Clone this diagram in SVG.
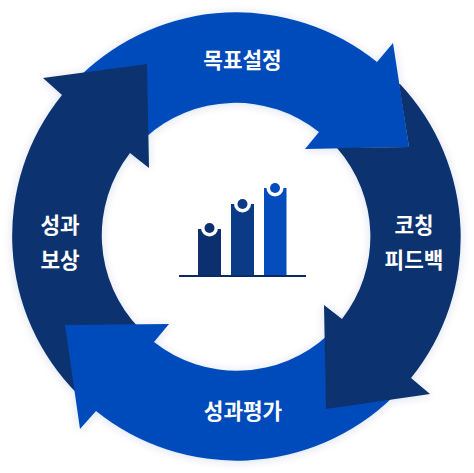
<svg xmlns="http://www.w3.org/2000/svg" width="474" height="473" viewBox="0 0 474 473">
<defs>
<filter id="soft" x="-10%" y="-10%" width="120%" height="120%"><feDropShadow dx="0" dy="1" stdDeviation="4" flood-color="#0b3a8a" flood-opacity="0.16"/></filter>
</defs>
<style>
.blue{fill:#054cbc}
.navy{fill:#0c306f}
.mid{fill:#0b3a86}
.hole{fill:#fff}
text{font-family:"Noto Sans CJK KR","Noto Sans",sans-serif;font-size:21.3px;font-weight:700;fill:#fff;text-anchor:middle}
</style>
<rect width="474" height="473" fill="#fff"/>
<g id="cycle" filter="url(#soft)">
<g id="goal-setting">
<path class="blue" d="M80,76A224,224 0 0 1 377,62L393,43L409,147L305,149L319,132A134,134 0 0 0 145,138Z"/>
</g>
<g id="reward">
<path class="navy" d="M78,394.5A224,224 0 0 1 62,95L43,78L147,64L149,168L130,153A134,134 0 0 0 140,329Z"/>
</g>
<g id="evaluation">
<path class="blue" d="M393,397A224,224 0 0 1 96,411L80,429L65,325L169,324L154,342A134,134 0 0 0 328,335Z"/>
</g>
<g id="coaching">
<path class="navy" d="M400,84A224,224 0 0 1 411,378L430,394L326,409L324,305L342,319A134,134 0 0 0 337,148L409,147L399,84Z"/>
</g>
</g>
<g id="labels">
<text x="242.500" y="68">목표설정</text>
<text x="414" y="233">코칭</text>
<text x="414" y="268">피드백</text>
<text x="243" y="419">성과평가</text>
<text x="60" y="233">성과</text>
<text x="60" y="268">보상</text>
</g>
<g id="chart">
<rect class="navy" x="198" y="229" width="23" height="47"/>
<rect class="mid" x="231" y="204" width="23" height="72"/>
<rect class="blue" x="264" y="188" width="22.500" height="88"/>
<circle class="hole" cx="209.500" cy="228" r="8.500"/>
<circle class="hole" cx="242.500" cy="204" r="8.500"/>
<circle class="hole" cx="275" cy="188" r="8.500"/>
<circle class="navy" cx="209.500" cy="228" r="5"/>
<circle class="mid" cx="242.500" cy="204" r="5"/>
<circle class="blue" cx="275" cy="188" r="5"/>
<rect x="179" y="275" width="127" height="2" fill="#0a2a63"/>
</g>
</svg>
